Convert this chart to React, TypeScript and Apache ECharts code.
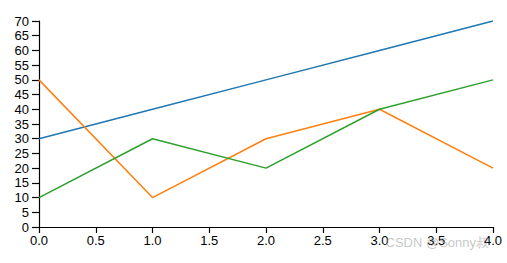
import React, { useEffect, useRef } from "react";
import * as echarts from "echarts";

const xValues = [0, 1, 2, 3, 4];
const blueSeries = [30, 40, 50, 60, 70];
const orangeSeries = [50, 10, 30, 40, 20];
const greenSeries = [10, 30, 20, 40, 50];
const watermark = "CSDN @Sonny叔";

const FONT = "'Liberation Sans', Arial, sans-serif";

export default function App() {
  const ref = useRef<HTMLDivElement>(null);
  useEffect(() => {
    const chart = echarts.init(ref.current!, null, { renderer: "svg" });
    const mk = (vals: number[], color: string) => ({
      type: "line",
      data: xValues.map((x, i) => [x, vals[i]]),
      showSymbol: false,
      symbol: "none",
      lineStyle: { color, width: 1.5 },
      itemStyle: { color },
    });
    chart.setOption({
      animation: false,
      backgroundColor: "#ffffff",
      grid: { left: 39, right: 14, top: 21, bottom: 36 },
      xAxis: {
        type: "value",
        min: 0,
        max: 4,
        interval: 0.5,
        axisLine: { show: true, lineStyle: { color: "#000", width: 1.2 } },
        axisTick: { show: true, length: 6, lineStyle: { color: "#000", width: 1.2 } },
        axisLabel: {
          color: "#000",
          fontFamily: FONT,
          fontSize: 13,
          margin: 7,
          formatter: (v: number) => v.toFixed(1),
        },
        splitLine: { show: false },
      },
      yAxis: {
        type: "value",
        min: 0,
        max: 70,
        interval: 5,
        axisLine: { show: true, lineStyle: { color: "#000", width: 1.2 } },
        axisTick: { show: true, length: 7, lineStyle: { color: "#000", width: 1.2 } },
        axisLabel: { color: "#000", fontFamily: FONT, fontSize: 13, margin: 10 },
        splitLine: { show: false },
      },
      series: [mk(blueSeries, "#1f77b4"), mk(orangeSeries, "#ff7f0e"), mk(greenSeries, "#2ca02c")],
      graphic: [
        {
          type: "text",
          right: 18,
          top: 236,
          style: {
            text: watermark,
            fill: "rgba(150,150,150,0.55)",
            font: `13px ${FONT}`,
          },
          z: 100,
        },
      ],
    });
    return () => chart.dispose();
  }, []);
  return (
    <div
      ref={ref}
      style={{ position: "fixed", left: 0, top: 0, width: 507, height: 263 }}
    />
  );
}
